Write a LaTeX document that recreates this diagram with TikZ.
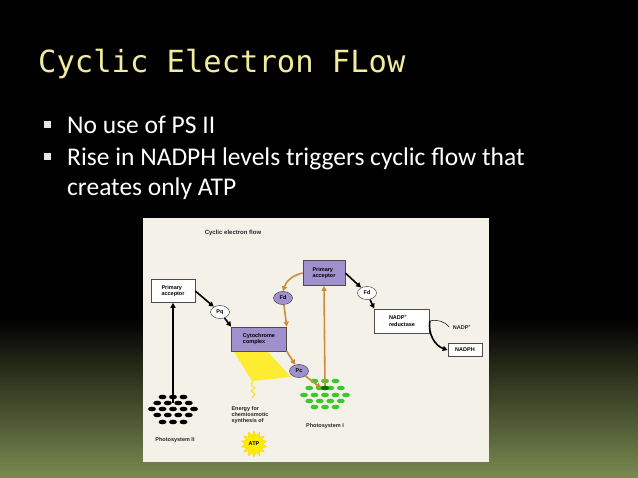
\documentclass[tikz,border=0pt]{standalone}
\usepackage{fontspec}
\setmainfont{Carlito}
\newfontfamily\monof{DejaVu Sans Mono}
\newfontfamily\arial{Liberation Sans}
\usetikzlibrary{shapes.geometric,arrows.meta}
\definecolor{titlecol}{RGB}{240,235,160}
\definecolor{paper}{RGB}{244,241,232}
\definecolor{purp}{RGB}{160,145,205}
\definecolor{orng}{RGB}{205,140,60}
\definecolor{grn}{RGB}{60,200,40}
\definecolor{olive}{RGB}{122,138,80}
\tikzset{
  lbl/.style={font=\arial\bfseries\fontsize{5.5}{6.3}\selectfont, align=left, text=black!85},
  wbox/.style={draw=black!70, fill=white, line width=0.6pt, minimum width=44pt, minimum height=23pt, font=\arial\bfseries\fontsize{5.5}{6.3}\selectfont, align=left},
  pbox/.style={wbox, fill=purp},
  wel/.style={ellipse, draw=black!70, fill=white, line width=0.5pt, minimum width=19pt, minimum height=13pt, inner sep=0pt, font=\arial\bfseries\fontsize{5.5}{6}\selectfont},
  pel/.style={wel, fill=purp},
  barr/.style={line width=1.6pt, -{Triangle[length=5pt,width=5pt]}},
  oarr/.style={draw=orng, line width=1.6pt, -{Triangle[length=5pt,width=5pt]}},
  btxt/.style={anchor=base west, text=white, font=\fontsize{25.5}{28}\selectfont, inner sep=0},
}
\begin{document}
\begin{tikzpicture}[x=1pt,y=-1pt]
\useasboundingbox (0,0) rectangle (638,478);
\fill[black] (0,0) rectangle (638,478);
\shade[top color=black, bottom color=olive] (0,318) rectangle (638,478);
\node[anchor=base west, text=titlecol, font=\monof\fontsize{30.5}{32}\selectfont, inner sep=0] (title) at (38,73) {Cyclic Electron FLow};
\node[btxt] (b1) at (67,134) {No use of PS II};
\node[btxt] (b2) at (67,166) {Rise in NADPH levels triggers cyclic flow that};
\node[btxt] (b3) at (67,196) {creates only ATP};
\fill[white!90!black] (44,121) rectangle (51,128);
\fill[white!90!black] (44,153) rectangle (51,160);
% photo
\fill[paper] (143,218) rectangle (489,462);
\node[lbl, font=\arial\bfseries\fontsize{6}{7}\selectfont] (ttl) at (233,233) {Cyclic electron flow};
% yellow energy region
\fill[yellow!90!orange!80] (234,352) -- (268,352) -- (291,377) -- (252,381) -- cycle;
\draw[yellow!80!orange, line width=0.8pt] (253,381) -- (251,385) -- (255,388) -- (251,391) -- (255,394) -- (252,398);
% boxes
\node[wbox] (pa1) at (173,291) {Primary\\acceptor};
\node[wel] (pq) at (220,312) {Pq};
\node[pbox, minimum width=55pt, minimum height=24pt] (cyt) at (259,339) {Cytochrome\\complex};
\node[pel] (fd1) at (283,298) {Fd};
\node[pbox, minimum width=42pt, minimum height=25pt] (pa2) at (324,273) {Primary\\acceptor};
\node[wel] (fd2) at (367,293) {Fd};
\node[wbox, minimum width=55pt, minimum height=24pt] (red) at (402,321) {NADP\textsuperscript{+}\\reductase};
\node[lbl] (nadp) at (462,327) {NADP\textsuperscript{+}};
\node[wbox, minimum width=34pt, minimum height=13pt, align=center] (nadph) at (465,350) {NADPH};
\node[pel] (pc) at (299,371) {Pc};
% PSII
\foreach \y/\n in {397/3, 403/4, 409/5, 415/4, 422/3}{
  \foreach \i in {1,...,\n}{
    \fill[black] ({173+10.5*(\i-(\n+1)/2)},\y) ellipse (4pt and 2.3pt);
  }
}
\coordinate (ps2) at (173,403);
% PSI
\foreach \y/\n in {381/3, 388/4, 395/5, 401/4, 407/3}{
  \foreach \i in {1,...,\n}{
    \fill[grn] ({325+10.5*(\i-(\n+1)/2)},\y) ellipse (4pt and 2.3pt);
  }
}
\fill[green!45!black] (325,388) ellipse (4pt and 2.3pt);
\coordinate (ps1) at (325,386);
\coordinate (ps1b) at (321,388);
\node[lbl] (lps2) at (175,440) {Photosystem II};
\node[lbl] (lps1) at (325,426) {Photosystem I};
\node[lbl] (energy) at (250,415) {Energy for\\chemiosmotic\\synthesis of};
\node[star, star points=14, star point ratio=1.5, fill=yellow!95!orange, draw=yellow!70!orange, inner sep=0.8pt, font=\arial\bfseries\fontsize{5.5}{6}\selectfont] (atp) at (254,444) {ATP};
% arrows
\draw[barr] (ps2) -- (pa1.south);
\draw[barr] (pa1.east) -- (pq);
\draw[barr] (pq) -- (cyt.north west);
\draw[barr] (pa2.east) -- (fd2);
\draw[barr] (fd2) -- (red.north west);
\draw[line width=0.5pt] (nadp.west) to[bend right=30] (red.east);
\draw[barr] (red.east) to[bend right=40] (nadph.west);
\draw[oarr] (ps1) -- (pa2.south);
\draw[oarr] (pa2.west) to[bend right=30] (fd1.north);
\draw[oarr] (fd1) -- (cyt.north east);
\draw[oarr] (cyt.south east) -- (pc);
\draw[oarr] (pc) -- (ps1b);
\end{tikzpicture}
\end{document}
